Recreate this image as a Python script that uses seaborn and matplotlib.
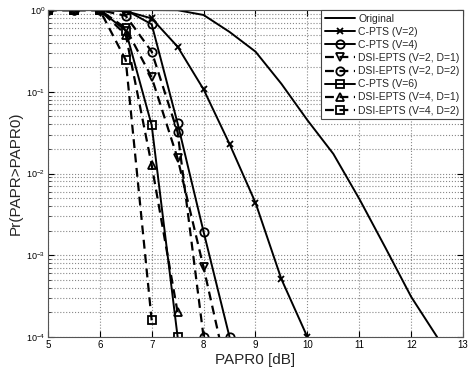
import numpy as np
import pandas as pd
import matplotlib
matplotlib.use("Agg")
import matplotlib.pyplot as plt
import seaborn as sns
from matplotlib.ticker import LogLocator, NullFormatter, MultipleLocator

# ---- data ----
papr_full = [5, 5.5, 6, 6.5, 7, 7.5, 8, 8.5, 9, 9.5, 10, 10.5, 11, 11.5, 12, 12.5]
original = [1, 1, 1, 1, 1, 0.995, 0.87, 0.54, 0.31, 0.125, 0.045, 0.0174, 0.0049, 0.00125, 0.00031, 0.0001]

x_cpts2 = [5, 5.5, 6, 6.5, 7, 7.5, 8, 8.5, 9, 9.5, 10]
cpts2 = [1, 1, 1, 0.97, 0.79, 0.356, 0.107, 0.023, 0.0044, 0.00051, 0.0001]

x_cpts4 = [5, 5.5, 6, 6.5, 7, 7.5, 8, 8.5]
cpts4 = [1, 1, 1, 1, 0.67, 0.041, 0.00194, 0.0001]

x_dsi2_1 = [5, 5.5, 6, 6.5, 7, 7.5, 8, 8.5]
dsi2_1 = [1, 1, 1, 0.6, 0.15, 0.0153, 0.00071, 0.000027]

x_dsi2_2 = [5, 5.5, 6, 6.5, 7, 7.5, 8]
dsi2_2 = [1, 1, 1, 0.85, 0.31, 0.032, 0.0001]

x_cpts6 = [5, 5.5, 6, 6.5, 7, 7.5]
cpts6 = [1, 1, 1, 0.56, 0.039, 0.0001]

x_dsi4_1 = [5, 5.5, 6, 6.5, 7, 7.5]
dsi4_1 = [1, 1, 1, 0.5, 0.0127, 0.0002]

x_dsi4_2 = [5, 5.5, 6, 6.5, 7]
dsi4_2 = [1, 1, 1, 0.245, 0.00016]

labels = ["Original", "C-PTS (V=2)", "C-PTS (V=4)", "DSI-EPTS (V=2, D=1)",
          "DSI-EPTS (V=2, D=2)", "C-PTS (V=6)", "DSI-EPTS (V=4, D=1)", "DSI-EPTS (V=4, D=2)"]

DASH = (0, (4, 2.5))
series = [
    (papr_full, original, '-', None, 1.4),
    (x_cpts2, cpts2, '-', 'x', 1.4),
    (x_cpts4, cpts4, '-', 'o', 1.4),
    (x_dsi2_1, dsi2_1, DASH, 'v', 1.6),
    (x_dsi2_2, dsi2_2, DASH, 'o', 1.6),
    (x_cpts6, cpts6, '-', 's', 1.4),
    (x_dsi4_1, dsi4_1, DASH, '^', 1.6),
    (x_dsi4_2, dsi4_2, DASH, 's', 1.6),
]

sns.set_theme(style="white")
plt.rcParams['font.family'] = ['Liberation Sans', 'DejaVu Sans']
plt.rcParams['mathtext.fontset'] = 'custom'
plt.rcParams['mathtext.rm'] = 'Liberation Sans'

fig = plt.figure(figsize=(4.74, 3.72), dpi=100)
ax = fig.add_axes([0.101, 0.094, 0.876, 0.879])

for (xs, ys, ls, mk, lw), lab in zip(series, labels):
    kw = dict(color='black', linewidth=lw, linestyle=ls)
    if mk is not None:
        kw.update(marker=mk, markersize=6 if mk != 'x' else 4.5,
                  markerfacecolor='none', markeredgecolor='black', markeredgewidth=1.3)
    sns.lineplot(x=xs, y=ys, ax=ax, label=lab, sort=False, errorbar=None, **kw)

ax.set_yscale('log')
ax.set_xlim(5, 13)
ax.set_ylim(1e-4, 1)
ax.xaxis.set_major_locator(MultipleLocator(1))
ax.yaxis.set_major_locator(LogLocator(base=10, numticks=10))
ax.yaxis.set_minor_locator(LogLocator(base=10, subs=np.arange(2, 10), numticks=20))
ax.yaxis.set_minor_formatter(NullFormatter())

ax.grid(True, which='major', color='#888888', linestyle=':', linewidth=0.8)
ax.grid(True, which='minor', axis='y', color='#888888', linestyle=':', linewidth=0.8)

ax.tick_params(axis='both', which='major', direction='in', length=4, labelsize=7, width=0.8,
               top=True, right=True, bottom=True, left=True, colors='black')
ax.tick_params(axis='y', which='minor', direction='in', length=2, width=0.6, right=True, left=True)
ax.tick_params(axis='x', pad=2)
ax.tick_params(axis='y', labelsize=6.5, pad=2)
for s in ax.spines.values():
    s.set_color('#555555')
    s.set_linewidth(0.8)

ax.set_xlabel('PAPR0 [dB]', fontsize=11, labelpad=2)
ax.set_ylabel('Pr(PAPR>PAPR0)', fontsize=11, labelpad=2)

leg = ax.legend(loc='upper right', fontsize=7.5, frameon=True, fancybox=False,
                edgecolor='#444444', framealpha=1, borderaxespad=0.0,
                handlelength=2.9, labelspacing=0.3, borderpad=0.35, handletextpad=0.3)
leg.get_frame().set_linewidth(0.8)

fig.savefig('out.png', dpi=100)
